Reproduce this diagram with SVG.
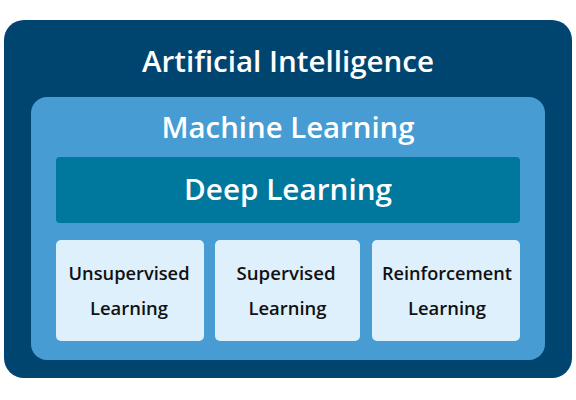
<svg xmlns="http://www.w3.org/2000/svg" width="576" height="400" viewBox="0 0 576 400">
<style>
.t{font-family:"Open Sans","Liberation Sans",sans-serif;font-weight:600;text-anchor:middle}
.w{fill:#ffffff}
.big{font-size:28px}
.sm{font-size:17.5px;fill:#111111}
.box{fill:#DDF0FC}
</style>
<rect width="576" height="400" fill="#ffffff"/>
<g id="ai">
<rect x="4" y="20" width="568" height="358" rx="20" fill="#004470"/>
<text class="t w big" x="288" y="72" textLength="292" lengthAdjust="spacingAndGlyphs">Artificial Intelligence</text>
</g>
<g id="ml">
<rect x="31" y="97" width="514" height="263" rx="16" fill="#479CD4"/>
<text class="t w big" x="288" y="138" textLength="253" lengthAdjust="spacingAndGlyphs">Machine Learning</text>
</g>
<g id="dl">
<rect x="56" y="157" width="464" height="66" rx="4" fill="#00779D"/>
<text class="t w big" x="288" y="200" textLength="208" lengthAdjust="spacingAndGlyphs">Deep Learning</text>
</g>
<g id="unsupervised">
<rect class="box" x="56" y="240" width="148" height="101" rx="5"/>
<text class="t sm" x="129" y="280" textLength="121" lengthAdjust="spacingAndGlyphs">Unsupervised</text>
<text class="t sm" x="129" y="315" textLength="78" lengthAdjust="spacingAndGlyphs">Learning</text>
</g>
<g id="supervised">
<rect class="box" x="215" y="240" width="145" height="101" rx="5"/>
<text class="t sm" x="286" y="280" textLength="99" lengthAdjust="spacingAndGlyphs">Supervised</text>
<text class="t sm" x="287.5" y="315" textLength="78" lengthAdjust="spacingAndGlyphs">Learning</text>
</g>
<g id="reinforcement">
<rect class="box" x="372" y="240" width="148" height="101" rx="5"/>
<text class="t sm" x="447" y="280" textLength="130" lengthAdjust="spacingAndGlyphs">Reinforcement</text>
<text class="t sm" x="447" y="315" textLength="78" lengthAdjust="spacingAndGlyphs">Learning</text>
</g>
<g id="connectors"/>
</svg>
